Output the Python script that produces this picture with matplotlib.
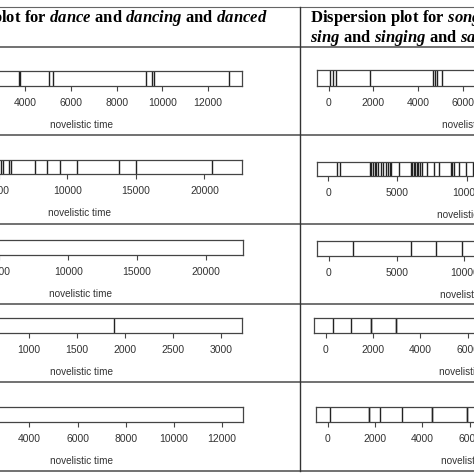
import matplotlib
matplotlib.use("Agg")
import matplotlib.pyplot as plt
from matplotlib.ticker import MultipleLocator
from matplotlib.lines import Line2D

plt.rcParams['mathtext.fontset'] = 'custom'
plt.rcParams['mathtext.rm'] = 'Liberation Serif:bold'
plt.rcParams['mathtext.it'] = 'Liberation Serif:bold:italic'
plt.rcParams['font.family'] = ['Liberation Sans', 'DejaVu Sans']

# event positions (word offsets)
left_events = [
    [3738, 3781, 5049, 5224, 9288, 9551, 9638, 12916],
    [5185, 5333, 5778, 5926, 7630, 8519, 9481, 10741, 13778, 15037, 20519],
    [],
    [1886],
    [],
]
right_events = [
    [86, 215, 344, 1849, 4645, 4731, 4860, 5075],
    [662, 882, 3020, 3120, 3235, 3360, 3480, 3625, 3775, 3970, 4140, 4315, 4460, 4560,
     5100, 5980, 6080, 6175, 6270, 6375, 6470, 6620, 6790, 7115, 7650, 7990, 8845, 8970,
     9070, 9465, 9950, 10440],
    [1743, 6051, 7868, 9831],
    [299, 1053, 1914, 1935, 2980, 2995],
    [111, 1734, 1750, 2225, 3143, 4398, 4414, 5889, 5905],
]
left_tick_step = [2000, 5000, 5000, 500, 2000]
right_tick_step = [2000, 5000, 5000, 2000, 2000]
left_xlim = [(-520, 13480), (-870, 22740), (-910, 22700), (-128, 3218), (-500, 12873)]
right_xlim = [(-516, 13416), (-810, 21060), (-880, 22000), (-490, 12740), (-490, 12740)]
# layout (pixels): left px, right px, top px, bottom px
left_boxes = [(-78, 242, 71, 86), (-82, 242, 160, 174), (-82, 243, 240, 255), (-80, 242, 318, 333), (-79, 243, 407, 422)]
right_boxes = [(317, 629, 70, 86), (317, 620, 162, 176), (317, 627, 241, 256), (314, 627, 318, 333), (316, 629, 407, 422)]

W = H = 474
fig = plt.figure(figsize=(4.74, 4.74), dpi=100)

def px_ax(l, r, t, b):
    return fig.add_axes([l / W, 1 - b / H, (r - l) / W, (b - t) / H])

def panel(box, xlim, step, events):
    ax = px_ax(*box)
    ax.set_xlim(*xlim)
    ax.set_ylim(0, 1)
    ax.vlines(events, 0, 1, color='#222222', lw=1.0)
    ax.set_yticks([])
    ax.xaxis.set_major_locator(MultipleLocator(step))
    ax.tick_params(axis='x', length=3.5, width=0.8, color='#444444', pad=5,
                   labelsize=7.5, labelcolor='#333333')
    for s in ax.spines.values():
        s.set_color('#444444')
        s.set_linewidth(0.9)
    ax.set_xlabel('novelistic time', fontsize=7.2, color='#333333', labelpad=9)
    lo, hi = xlim
    ax.set_xticks([v for v in ax.get_xticks() if 0 <= v <= hi])
    return ax

for i in range(5):
    panel(left_boxes[i], left_xlim[i], left_tick_step[i], left_events[i])
    panel(right_boxes[i], right_xlim[i], right_tick_step[i], right_events[i])

# table lines
lc = '#666666'
for y in [7, 47, 135, 224, 304, 382, 471]:
    fig.add_artist(Line2D([0, 1], [1 - y / H] * 2, color=lc, lw=1.3 if y != 7 else 0.8))
fig.add_artist(Line2D([300 / W] * 2, [1 - 7 / H, 1 - 471 / H], color='#333333', lw=1.0))

fig.text(268 / W, 1 - 18 / H,
         r"$\mathrm{Dispersion\ plot\ for\ }\mathit{dance}\mathrm{\ and\ }\mathit{dancing}\mathrm{\ and\ }\mathit{danced}$",
         ha='right', va='center', fontsize=12)
fig.text(310 / W, 1 - 18 / H,
         r"$\mathrm{Dispersion\ plot\ for\ }\mathit{song}\mathrm{\ and}$",
         ha='left', va='center', fontsize=12)
fig.text(310 / W, 1 - 38 / H,
         r"$\mathit{sing}\mathrm{\ and\ }\mathit{singing}\mathrm{\ and\ }\mathit{sang}$",
         ha='left', va='center', fontsize=12)

fig.savefig('out.png', dpi=100)
